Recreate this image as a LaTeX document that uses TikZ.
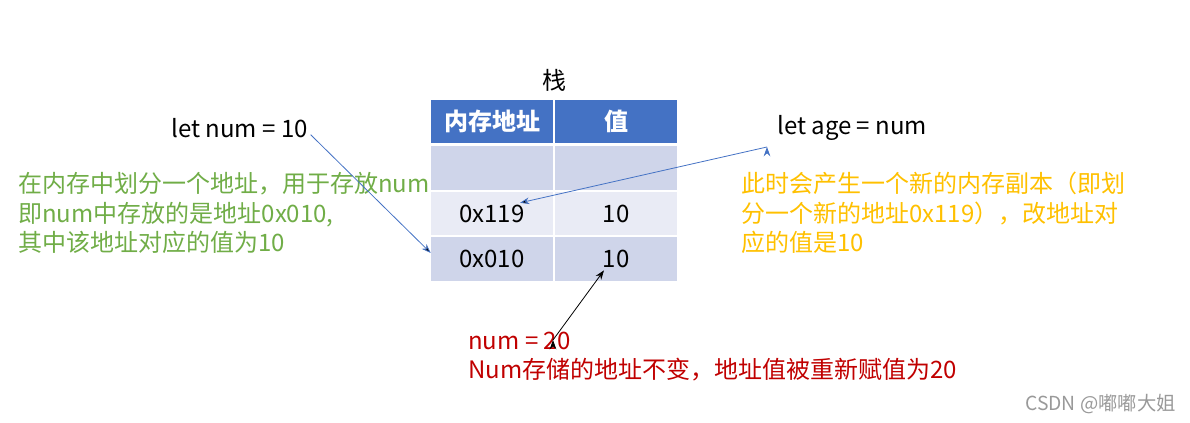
\documentclass[tikz,border=0pt]{standalone}
\usepackage{fontspec}
\setmainfont{Noto Sans CJK SC}
\usepackage{xcolor}
\usepackage{tikz}
\usetikzlibrary{arrows.meta}
\definecolor{hdblue}{HTML}{4472C4}
\definecolor{rowdark}{HTML}{CFD5EA}
\definecolor{rowlight}{HTML}{E9EBF5}
\definecolor{notegreen}{HTML}{70AD47}
\definecolor{noteorange}{HTML}{FFC000}
\definecolor{notered}{HTML}{C00000}
\tikzset{
	cell/.style={rectangle,minimum width=91.5pt,minimum height=32.6pt,inner sep=0pt,font=\fontsize{18}{22}\selectfont},
	head cell/.style={cell,fill=hdblue,text=white,font=\fontsize{18}{22}\selectfont\bfseries},
	dark cell/.style={cell,fill=rowdark},
	light cell/.style={cell,fill=rowlight},
	note/.style={align=left,anchor=west,inner sep=0pt,font=\fontsize{18}{22}\selectfont}
}

\begin{document}
\begin{tikzpicture}[->,>={Stealth[length=7pt,width=5pt]},x=0.75pt,y=-0.75pt]
      \useasboundingbox (0,0) rectangle (1190,423);
      \node[note,anchor=center] (stack) at (554,80) {栈};

      \node[head cell] (h1) at (492,121.5) {内存地址};
      \node[head cell] (h2) at (616,121.5) {值};
      \node[dark cell] (r1a) at (492,168) {};
      \node[dark cell] (r1b) at (616,168) {};
      \node[light cell] (r2a) at (492,213.5) {0x119};
      \node[light cell] (r2b) at (616,213.5) {10};
      \node[dark cell] (r3a) at (492,259) {0x010};
      \node[dark cell] (r3b) at (616,259) {10};

      \node[note] (numtxt) at (171,128) {let num = 10};
      \node[note,text=notegreen] (greentxt) at (18,213) {在内存中划分一个地址，用于存放num\\即num中存放的是地址0x010,\\其中该地址对应的值为10};

      \node[note] (agetxt) at (777,128) {let age = num};
      \node[note,text=noteorange] (orangetxt) at (741,213) {此时会产生一个新的内存副本（即划\\分一个新的地址0x119），改地址对\\应的值是10};

      \node[note,text=notered] (redtxt) at (468,356.5) {num = 20\\Num存储的地址不变，地址值被重新赋值为20};
      \node[note,anchor=east,text=black!40,font=\fontsize{14.5}{16}\selectfont] (mark) at (1176,404) {CSDN @嘟嘟大姐};

      \coordinate (agetail) at (767,147);
      \coordinate (redtail) at (553,340);

      \path[draw=hdblue,line width=0.6pt]
        ([xshift=2pt,yshift=-5pt]numtxt.east) edge ([yshift=4.5pt]r3a.west)
        (agetail) edge ([xshift=21pt,yshift=8pt]r2a.center);
      \path[draw=black,line width=0.6pt]
        (redtail) edge ([xshift=-9pt,yshift=-8.5pt]r3b.center);
\end{tikzpicture}
\end{document}
